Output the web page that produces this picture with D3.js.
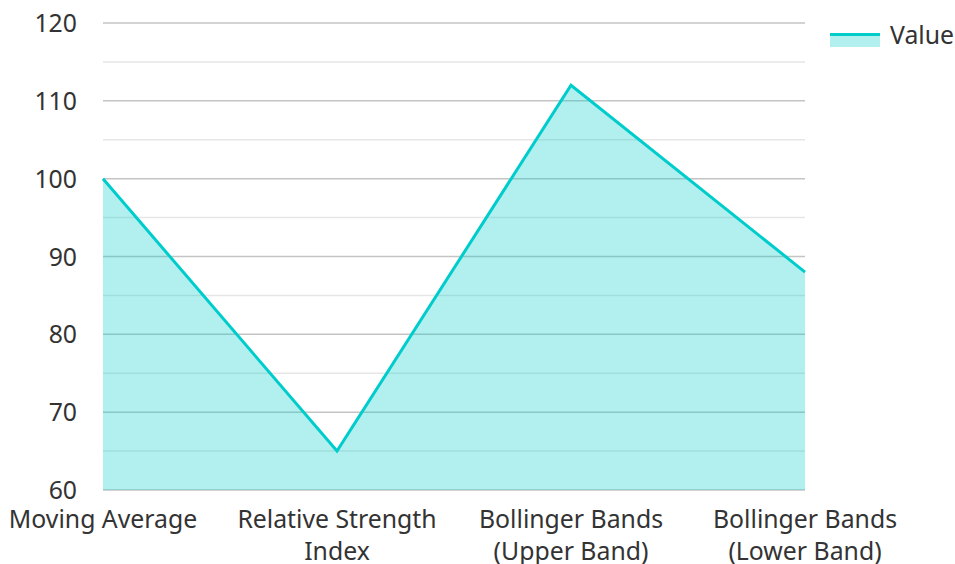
<!DOCTYPE html>
<html><head><meta charset="utf-8">
<script src="https://cdn.jsdelivr.net/npm/d3@7"></script>
<style>body{margin:0;background:#fff}svg{display:block}text{font-family:"Noto Sans",sans-serif;fill:#333}</style>
</head><body><svg id="c" width="955" height="564"></svg>
<script>
const categories = [["Moving Average"],["Relative Strength","Index"],["Bollinger Bands","(Upper Band)"],["Bollinger Bands","(Lower Band)"]];
const values = [100, 65, 112, 88];
const majorTicks = [60,70,80,90,100,110,120];
const minorTicks = [65,75,85,95,105,115];
const seriesName = "Value";

const svg = d3.select("#c");
const L=103,R=805,T=23,B=490;
const x = d3.scalePoint().domain(d3.range(categories.length)).range([L,R]).padding(0);
const y = d3.scaleLinear().domain([60,120]).range([B,T]);
const teal = "#00cccc";
const fs = 24.8;

svg.append("g").selectAll("line").data(minorTicks).join("line")
  .attr("x1",L).attr("x2",R).attr("y1",d=>y(d)).attr("y2",d=>y(d))
  .attr("stroke","#e6e6e6").attr("stroke-width",1.5);
svg.append("g").selectAll("line").data(majorTicks).join("line")
  .attr("x1",L).attr("x2",R).attr("y1",d=>y(d)).attr("y2",d=>y(d))
  .attr("stroke","#c4c4c4").attr("stroke-width",1.5);

const area = d3.area().x((d,i)=>x(i)).y0(y(60)).y1(d=>y(d));
svg.append("path").attr("d",area(values)).attr("fill",teal).attr("fill-opacity",0.3);
const line = d3.line().x((d,i)=>x(i)).y(d=>y(d));
svg.append("path").attr("d",line(values)).attr("fill","none").attr("stroke",teal).attr("stroke-width",3);

svg.append("g").selectAll("text").data(majorTicks).join("text")
  .attr("x",77).attr("y",d=>y(d)+9).attr("text-anchor","end")
  .attr("font-size",fs).text(d=>d);

const cg = svg.append("g").selectAll("text").data(categories).join("text")
  .attr("text-anchor","middle").attr("font-size",fs)
  .attr("transform",(d,i)=>`translate(${x(i)},528)`);
cg.selectAll("tspan").data(d=>d).join("tspan").attr("x",0).attr("dy",(d,j)=>j?32:0).text(d=>d);

const lg = svg.append("g").attr("transform","translate(830,33)");
lg.append("rect").attr("x",0).attr("y",0).attr("width",50).attr("height",14).attr("fill",teal).attr("fill-opacity",0.3);
lg.append("line").attr("x1",0).attr("x2",50).attr("y1",1.5).attr("y2",1.5).attr("stroke",teal).attr("stroke-width",3);
lg.append("text").attr("x",60).attr("y",11).attr("font-size",fs).text(seriesName);
</script></body></html>
